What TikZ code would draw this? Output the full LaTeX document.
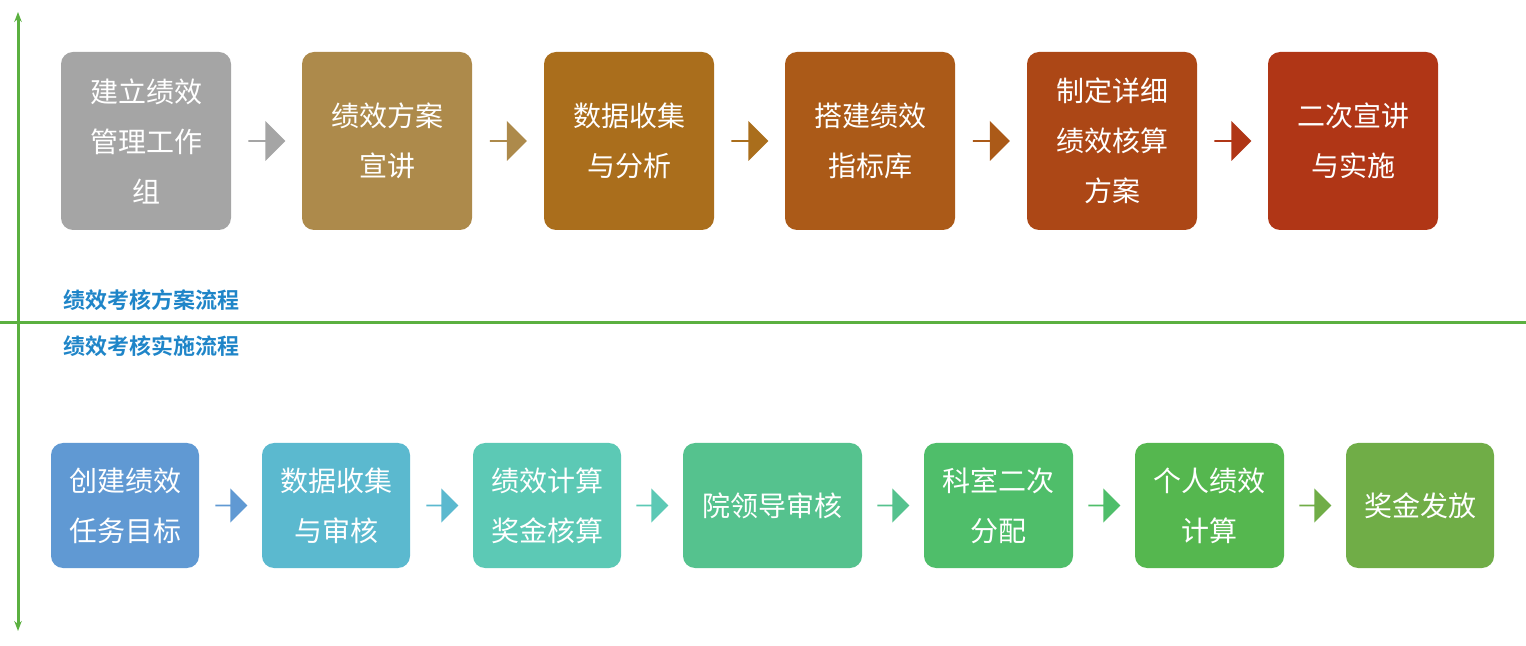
\documentclass[tikz,border=0pt]{standalone}
\usepackage{fontspec}
\setmainfont{Noto Sans CJK SC}
\newfontfamily\cjkb{Noto Sans CJK SC Bold}
\usetikzlibrary{shapes.arrows,arrows.meta,calc}
\definecolor{gline}{HTML}{5BB040}
\definecolor{lblue}{HTML}{1F85C8}
\definecolor{ta}{RGB}{165,165,165}
\definecolor{tb}{RGB}{173,138,75}
\definecolor{tc}{RGB}{170,110,28}
\definecolor{td}{RGB}{171,90,24}
\definecolor{te}{RGB}{172,71,22}
\definecolor{tf}{RGB}{176,54,22}
\definecolor{ba}{RGB}{96,153,211}
\definecolor{bb}{RGB}{91,185,207}
\definecolor{bc}{RGB}{92,201,181}
\definecolor{bd}{RGB}{85,194,142}
\definecolor{be}{RGB}{79,190,106}
\definecolor{bf}{RGB}{85,183,79}
\definecolor{bg}{RGB}{112,173,71}
\tikzset{
  topbox/.style={rounded corners=6pt,minimum width=85pt,minimum height=89pt,text=white,font=\fontsize{14pt}{25pt}\selectfont,align=center,inner sep=0},
  botbox/.style={rounded corners=6pt,minimum height=62.5pt,text=white,font=\fontsize{14pt}{25pt}\selectfont,align=center,inner sep=0},
  barr/.style={single arrow,single arrow head extend=4pt,minimum height=18.5pt,minimum width=20pt,inner sep=0,fill=#1},
  sarr/.style={single arrow,single arrow head extend=3.5pt,minimum height=16pt,minimum width=17pt,inner sep=0,fill=#1},
  lbl/.style={text=lblue,font=\cjkb\fontsize{11pt}{13pt}\selectfont,anchor=west,inner sep=0}
}
\begin{document}
\begin{tikzpicture}[x=0.5pt,y=-0.5pt]
\useasboundingbox (0,0) rectangle (1526,646);
\coordinate (vt) at (18,12); \coordinate (vb) at (18,631);
\coordinate (hl) at (0,323); \coordinate (hr) at (1526,323);
\draw[gline,line width=1.5pt,{Stealth[length=5pt]}-{Stealth[length=5pt]}] (vt) -- (vb);
\draw[gline,line width=1.5pt] (hl) -- (hr);
\node[lbl] (l1) at (63,300) {绩效考核方案流程};
\node[lbl] (l2) at (63,346) {绩效考核实施流程};
\node[topbox,fill=ta] (t1) at (146,141) {建立绩效\\管理工作\\组};
\node[topbox,fill=tb] (t2) at (387,141) {绩效方案\\宣讲};
\node[topbox,fill=tc] (t3) at (629,141) {数据收集\\与分析};
\node[topbox,fill=td] (t4) at (870,141) {搭建绩效\\指标库};
\node[topbox,fill=te] (t5) at (1112,141) {制定详细\\绩效核算\\方案};
\node[topbox,fill=tf] (t6) at (1353,141) {二次宣讲\\与实施};
\node[barr=ta] (a1) at ($(t1)!0.5!(t2)$) {};
\node[barr=tb] (a2) at ($(t2)!0.5!(t3)$) {};
\node[barr=tc] (a3) at ($(t3)!0.5!(t4)$) {};
\node[barr=td] (a4) at ($(t4)!0.5!(t5)$) {};
\node[barr=tf] (a5) at ($(t5)!0.5!(t6)$) {};
\node[botbox,minimum width=74pt,fill=ba] (b1) at (125,505.5) {创建绩效\\任务目标};
\node[botbox,minimum width=74pt,fill=bb] (b2) at (336,505.5) {数据收集\\与审核};
\node[botbox,minimum width=74pt,fill=bc] (b3) at (547,505.5) {绩效计算\\奖金核算};
\node[botbox,minimum width=89.5pt,fill=bd] (b4) at (772.5,505.5) {院领导审核};
\node[botbox,minimum width=74.5pt,fill=be] (b5) at (998.5,505.5) {科室二次\\分配};
\node[botbox,minimum width=74.5pt,fill=bf] (b6) at (1209.5,505.5) {个人绩效\\计算};
\node[botbox,minimum width=74pt,fill=bg] (b7) at (1420,505.5) {奖金发放};
\node[sarr=ba] (s1) at (231,505.5) {};
\node[sarr=bb] (s2) at (442,505.5) {};
\node[sarr=bc] (s3) at (652,505.5) {};
\node[sarr=bd] (s4) at (893,505.5) {};
\node[sarr=be] (s5) at (1104,505.5) {};
\node[sarr=bg] (s6) at (1315,505.5) {};
\end{tikzpicture}
\end{document}
